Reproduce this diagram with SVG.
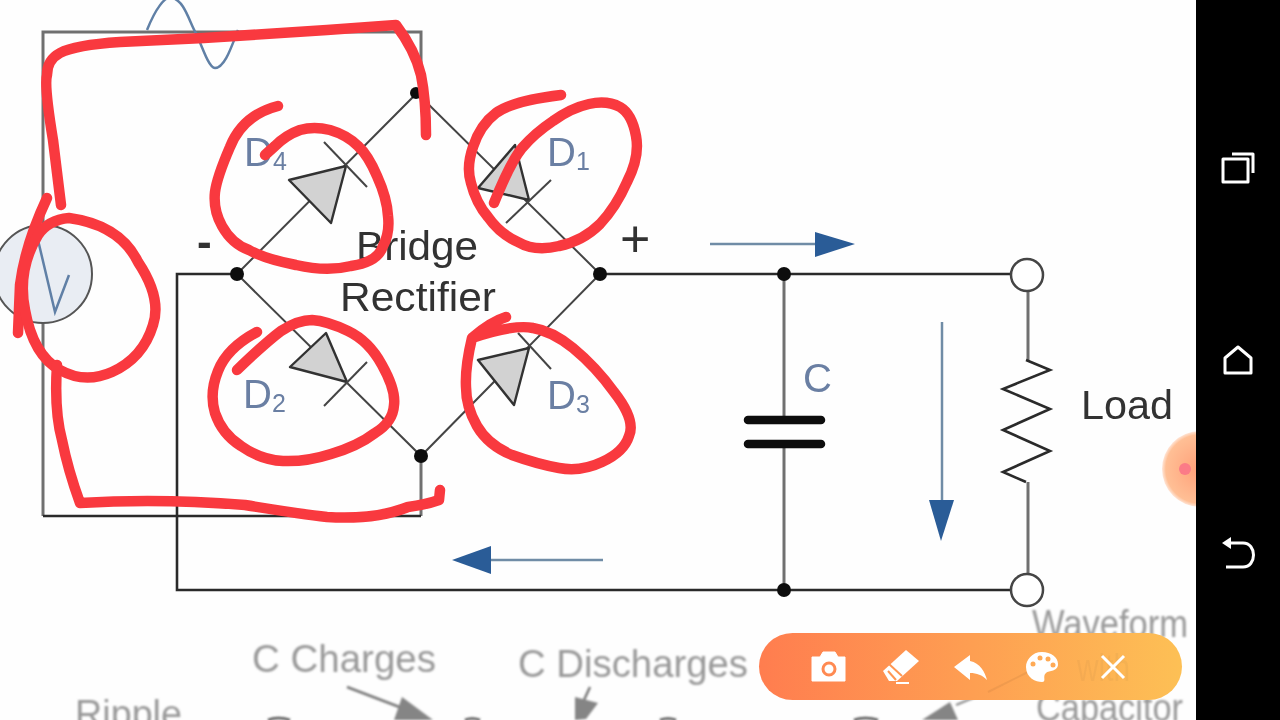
<svg xmlns="http://www.w3.org/2000/svg" width="1280" height="720" viewBox="0 0 1280 720">
<defs>
<linearGradient id="bar" x1="0" x2="1" y1="0" y2="0"><stop offset="0" stop-color="#ff7d4f"/><stop offset="1" stop-color="#fdc055"/></linearGradient>
<radialGradient id="fabg"><stop offset="0" stop-color="#ff9f78"/><stop offset="0.9" stop-color="#ffbf95"/><stop offset="1" stop-color="#ffe6d8"/></radialGradient>
<filter id="soft" filterUnits="userSpaceOnUse" x="0" y="0" width="1280" height="720"><feGaussianBlur stdDeviation="0.7"/></filter>
<filter id="softer" filterUnits="userSpaceOnUse" x="0" y="0" width="1280" height="720"><feGaussianBlur stdDeviation="1"/></filter>
</defs>
<style>
.b{filter:url(#soft)}
.bb{filter:url(#softer)}
.w{fill:none;stroke:#2a2a2a;stroke-width:2.6}
.g{fill:none;stroke:#707070;stroke-width:3}
.t{fill:none;stroke:#444;stroke-width:2}
.d{fill:#d2d2d2;stroke:#333;stroke-width:2.4;stroke-linejoin:round}
.dot{fill:#111}
.term{fill:#fff;stroke:#444;stroke-width:2.5}
.lab{font-family:"Liberation Sans",Arial,sans-serif;font-size:41px;fill:#333}
.blue{font-family:"Liberation Sans",Arial,sans-serif;font-size:40px;fill:#6a7fa3}
.sub{font-size:25px}
.grey{font-family:"Liberation Sans",Arial,sans-serif;font-size:38px;fill:#999}
.red{fill:none;stroke:#f9393f;stroke-width:10.5;stroke-linecap:round;stroke-linejoin:round}
.ic{fill:none;stroke:#fff;stroke-width:3;stroke-linejoin:round}
.arrow{fill:#2b5c97}
.shaft{fill:none;stroke:#6f8ca6;stroke-width:2.5}
.pale{fill:none;stroke:#6180a6;stroke-width:2.5}
</style>
<rect width="1280" height="720" fill="#fefefe"/>
<g id="connectors" class="b">
<path class="g" d="M43 225V32H421V88"/>
<path class="g" d="M43 320V516"/>
<path class="g" d="M421 456V516"/>
<path class="w" d="M43 516H421"/>
<path class="w" d="M237 274H177V590H1012"/>
<path class="w" d="M600 274H1012"/>
<path class="g" d="M784 274V418M784 448V590"/>
<path class="g" d="M1028 291V360M1028 482V574"/>
<path class="t" d="M417 93L600 274L421 456L237 274Z"/>
</g>
<g id="source" class="b">
<circle cx="43" cy="274" r="49" fill="#e9edf3" stroke="#555" stroke-width="2"/>
<path class="pale" d="M38 240L55 312L69 275"/>
</g>
<g id="wave" class="b"><path class="pale" d="M147 30C155 10 165 -5 172 -2C185 0 190 25 197 35C205 55 210 68 215 68C225 68 232 45 238 30"/></g>
<g id="D4" class="b">
<path class="d" d="M289 180L346 166L331 223Z"/>
<path class="t" d="M324 142L367 187"/>
<text class="blue" x="244" y="166">D<tspan class="sub" dy="4">4</tspan></text>
</g>
<g id="D1" class="b">
<path class="d" d="M515 145L529 200L478 188Z"/>
<path class="t" d="M551 180L506 223"/>
<text class="blue" x="547" y="166">D<tspan class="sub" dy="4">1</tspan></text>
</g>
<g id="D2" class="b">
<path class="d" d="M326 333L347 382L290 367Z"/>
<path class="t" d="M367 362L324 406"/>
<text class="blue" x="243" y="408">D<tspan class="sub" dy="4">2</tspan></text>
</g>
<g id="D3" class="b">
<path class="d" d="M529 348L514 405L478 360Z"/>
<path class="t" d="M518 333L551 369"/>
<text class="blue" x="547" y="409">D<tspan class="sub" dy="4">3</tspan></text>
</g>
<g id="labels" class="b">
<text class="lab" x="356" y="260" textLength="122" lengthAdjust="spacingAndGlyphs">Bridge</text>
<text class="lab" x="340" y="311" textLength="156" lengthAdjust="spacingAndGlyphs">Rectifier</text>
<text class="lab" x="197" y="257" font-weight="bold" style="font-size:44px">-</text>
<text class="lab" x="620" y="257" style="font-size:52px">+</text>
<text class="blue" x="803" y="392">C</text>
<text class="lab" x="1081" y="419" textLength="92" lengthAdjust="spacingAndGlyphs">Load</text>
</g>
<g id="dots" class="b">
<circle class="dot" cx="237" cy="274" r="7"/><circle class="dot" cx="600" cy="274" r="7"/><circle class="dot" cx="421" cy="456" r="7"/><circle class="dot" cx="416" cy="93" r="6"/><circle class="dot" cx="784" cy="274" r="7"/><circle class="dot" cx="784" cy="590" r="7"/>
<circle class="term" cx="1027" cy="275" r="16"/><circle class="term" cx="1027" cy="590" r="16"/>
</g>
<g id="capacitor" class="b">
<path d="M748 420H821M748 444H821" stroke="#0a0a0a" stroke-width="8.5" stroke-linecap="round" fill="none"/>
</g>
<g id="load" class="b">
<path class="w" d="M1026 360L1050 370L1003 389L1050 409L1003 430L1050 451L1003 472L1026 482"/>
</g>
<g id="flow" class="b">
<path class="shaft" d="M710 244H820"/><path class="arrow" d="M815 232L855 244L815 257Z"/>
<path class="shaft" d="M942 322V505"/><path class="arrow" d="M929 500H954L941 541Z"/>
<path class="shaft" d="M603 560H490"/><path class="arrow" d="M491 546V574L452 560Z"/>
</g>
<g id="lower" class="bb">
<text class="grey" x="252" y="672" textLength="184" lengthAdjust="spacingAndGlyphs">C Charges</text>
<text class="grey" x="518" y="677" textLength="230" lengthAdjust="spacingAndGlyphs">C Discharges</text>
<text class="grey" x="75" y="727" textLength="107" lengthAdjust="spacingAndGlyphs">Ripple</text>
<text class="grey" x="1032" y="637" textLength="156" lengthAdjust="spacingAndGlyphs">Waveform</text>
<text class="grey" x="1036" y="721" textLength="147" lengthAdjust="spacingAndGlyphs">Capacitor</text>
<path d="M347 687L402 708" stroke="#777" stroke-width="2.5" fill="none"/>
<path d="M402 697L433 720H394Z" fill="#858585"/>
<path d="M590 687L584 700" stroke="#777" stroke-width="2.5" fill="none"/>
<path d="M575 697L598 703L586 719L575 720Z" fill="#858585"/>
<path d="M950 702L922 720H958Z" fill="#858585"/>
<path d="M956 705L1028 675" stroke="#888" stroke-width="2" fill="none"/>
<path d="M268 720Q278 716 290 720M465 720Q472 717 480 720M660 720Q668 717 676 720M854 720Q865 716 878 720" stroke="#555" stroke-width="2.5" fill="none"/>
</g>
<g id="ink">
<path class="red" d="M61 205L53 140Q44 85 47 75Q47 60 60 53Q75 45 120 42L204 38L327 30L396 25Q415 50 421 75Q426 100 426 135"/>
<path class="red" d="M47 198Q25 245 20 285L18 333"/>
<path class="red" d="M69 218Q120 225 138 262Q162 298 153 325Q143 358 112 372Q85 384 60 370Q33 355 25 310Q17 270 38 235Q48 220 69 218"/>
<path class="red" d="M57 365Q54 410 62 440Q68 470 80 503Q160 498 245 505Q300 514 327 517Q375 520 408 507Q425 505 439 500L440 490"/>
<path class="red" d="M278 106Q243 115 230 147Q217 177 215 192Q213 210 222 226Q232 244 249 250Q265 259 296 265Q327 272 351 266Q378 262 383 246Q390 233 388 216Q387 198 377 176Q368 155 358 146Q347 135 330 130Q314 126 300 130Q286 135 275 146L265 155"/>
<path class="red" d="M561 95Q512 101 496 113Q480 125 473 147Q466 167 471 183Q476 203 488 217Q500 234 518 242Q535 252 559 246Q583 241 600 224Q616 207 627 182Q640 157 636 136Q632 114 620 107Q607 100 589 104Q571 108 553 121Q535 133 522 148Q510 163 494 203"/>
<path class="red" d="M257 332Q227 348 218 371Q209 393 215 413Q222 434 241 446Q261 460 283 461Q306 462 331 454Q358 446 375 433Q393 422 394 405Q396 390 382 365Q369 341 348 331Q327 321 312 320Q298 320 281 331Q265 343 237 370"/>
<path class="red" d="M506 317Q490 322 472 338Q514 324 533 328Q552 331 573 348Q596 367 614 392Q636 420 629 436Q624 452 602 462Q581 472 559 468Q537 464 512 455Q488 445 477 426Q466 407 466 387Q465 367 472 338"/>
</g>
<g id="toolbar">
<rect x="759" y="633" width="423" height="67" rx="33.5" fill="url(#bar)"/>
<text x="1077" y="681" font-family="Liberation Sans, Arial, sans-serif" font-size="38" fill="#8a6a3a" opacity="0.07" textLength="53" lengthAdjust="spacingAndGlyphs">with</text>
<path d="M988 692L1030 671" stroke="#c8803f" stroke-width="2" opacity="0.25" fill="none"/>
<path d="M812 657H820L823 652H835L838 657H845V681H812Z" fill="#fff" stroke="#fff" stroke-linejoin="round"/><circle cx="829" cy="669" r="6" fill="none" stroke="#ff8a52" stroke-width="3"/>
<path d="M883 671L906 650L919 661L897 681H889Z" fill="#fff"/><path d="M889 664L902 676" stroke="#ff9652" stroke-width="2"/><path d="M888 671L896 680" stroke="#ff9652" stroke-width="2"/><path d="M896 683H909" stroke="#fff" stroke-width="2"/>
<path d="M954 667L970 655V661C980 663 985 672 987 680C982 675 977 673 970 673V680Z" fill="#fff"/>
<path d="M1042 652C1032 652 1026 660 1026 667C1026 678 1036 682 1042 682C1047 682 1042 676 1046 673C1049 670 1058 672 1058 664C1058 657 1051 652 1042 652Z" fill="#fff"/>
<circle cx="1033" cy="664" r="2.5" fill="#ffaa55"/><circle cx="1040" cy="658" r="2.5" fill="#ffaa55"/><circle cx="1048" cy="659" r="2.5" fill="#ffaa55"/><circle cx="1053" cy="665" r="2.5" fill="#ffaa55"/>
<path d="M1102 656L1124 678M1124 656L1102 678" stroke="#fff" stroke-width="3" fill="none"/>
</g>
<g id="fab">
<circle cx="1200" cy="469" r="38" fill="url(#fabg)"/>
<circle cx="1185" cy="469" r="6" fill="#fb7b87"/>
</g>
<g id="navbar">
<rect x="1196" width="84" height="720" fill="#000"/>
<path class="ic" d="M1223 159H1248V182H1223ZM1232 154H1253V173"/>
<path class="ic" d="M1225 373V358L1238 347L1251 358V373Z"/>
<path class="ic" d="M1228 543H1243C1257 543 1257 567 1243 567H1226"/>
<path d="M1222 543L1231 537V549Z" fill="#fff"/>
</g>
</svg>
